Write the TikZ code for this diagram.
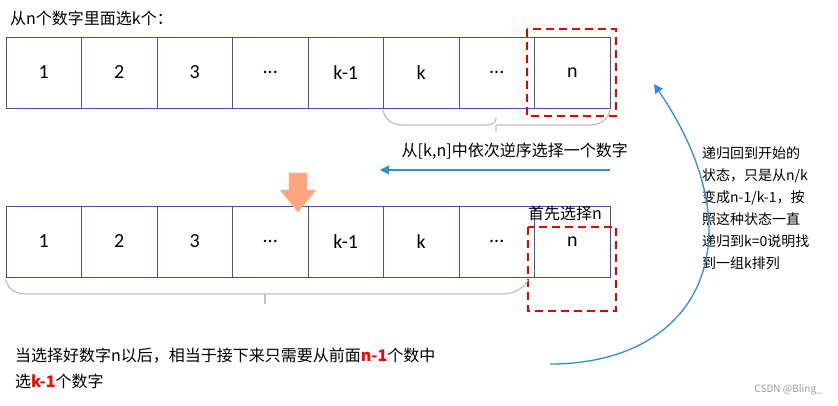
\documentclass[tikz,border=0pt]{standalone}
\usepackage{fontspec}
\setmainfont{Noto Sans CJK SC}
\newfontfamily\calfont{Carlito}
\usetikzlibrary{arrows.meta}
\def\dd{...}
\begin{document}
\begin{tikzpicture}[x=1pt,y=-1pt,
  cell/.style={draw=blue!50!black!70,line width=0.9pt,minimum width=75.5pt,minimum height=71pt,inner sep=0,font=\calfont\fontsize{20}{20}\selectfont},
  redbox/.style={draw=red!90!black,dashed,dash pattern=on 8pt off 5pt,line width=1.5pt},
  brace/.style={draw=black!25,line width=1.2pt},
  blue/.style={draw=blue!40!cyan!60!gray,line width=1.3pt},
  txt/.style={font=\fontsize{16}{16}\selectfont,inner sep=0,anchor=west}]
\useasboundingbox (0,0) rectangle (838,406);
\foreach \r/\y in {a/72.5,b/241.5}{
  \foreach \t [count=\i] in {1,2,3,\dd,k-1,k,\dd,n}{
    \node[cell] (\r\i) at ({6+75.5*(\i-0.5)},\y) {\t};
  }}
\node[txt] (title) at (10,18) {从n个数字里面选k个：};
\draw[redbox] (527,29) rectangle (616,116);
\draw[redbox] (528,227) rectangle (616,311);
% braces
\draw[brace] (383,110) to[out=-80,in=180] (403,125) -- (476,125) to[out=0,in=-90] (496,118)
  (496,125) -- (496,132) (496,125) to[out=0,in=180] (516,125) -- (590,125) to[out=0,in=-100] (610,110);
\draw[brace] (6,280) to[out=-80,in=180] (26,294) -- (245,294) to[out=0,in=180] (265,294) -- (500,294) to[out=0,in=-120] (528,280);
\draw[brace] (265,294) -- (265,304);
\node[txt,anchor=east] (t1) at (628,151) {从[k,n]中依次逆序选择一个数字};
\coordinate (s1) at (610,170); \coordinate (e1) at (380,170);
\draw[blue,-{Triangle[length=9pt,width=9pt]}] (s1) -- (e1);
\draw[fill=red!40!orange!50,draw=red!30!orange!40] (289,173) -- (307,173) -- (307,190) -- (316,190) -- (298,212) -- (280,190) -- (289,190) -- cycle;
\node[txt] (first) at (528,213) {首先选择n};
\node[font=\fontsize{14}{22}\selectfont,align=left,anchor=north west,inner sep=0] (side) at (702,146)
 {递归回到开始的\\状态，只是从n/k\\变成n-1/k-1，按\\照这种状态一直\\递归到k=0说明找\\到一组k排列};
\node[txt] (b1) at (15,356) {当选择好数字n以后，相当于接下来只需要从前面\textcolor{red}{\textbf{n-1}}个数中};
\node[txt] (b2) at (15,381) {选\textcolor{red}{\textbf{k-1}}个数字};
\coordinate (cs) at (550,364); \coordinate (ce) at (654,84);
\draw[blue,-{Triangle[length=9pt,width=9pt]}] (cs) .. controls (700,364) and (760,240) .. (ce);
\node[font=\fontsize{10}{10}\selectfont,text=black!40,anchor=east,inner sep=0] (wm) at (822,390) {CSDN @Bling\_};
\end{tikzpicture}
\end{document}
